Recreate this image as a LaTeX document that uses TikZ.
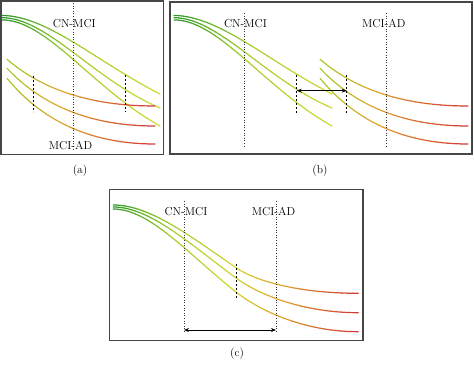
\documentclass[tikz,border=0pt]{standalone}
\usetikzlibrary{arrows.meta}
\definecolor{boxgrey}{RGB}{70,70,70}
\definecolor{trendgreen}{RGB}{40,150,40}
\definecolor{trendlime}{RGB}{165,205,45}
\definecolor{trendyellow}{RGB}{210,215,50}
\definecolor{trendorange}{RGB}{225,165,45}
\definecolor{trendred}{RGB}{210,55,55}
\newcommand{\trend}[7] % start, control 1, control 2, end, colour at start, middle, end
{
	% curve cut in short pieces, each one coloured on its own
	\foreach \k in {1,...,30}
	{
		\pgfmathsetmacro{\ta}{(\k-1)/30}
		\pgfmathsetmacro{\tb}{\k/30}
		\ifnum\k>15
			\pgfmathtruncatemacro{\pc}{(\k-15.5)*100/15}
			\colorlet{segcol}{#7!\pc!#6}
		\else
			\pgfmathtruncatemacro{\pc}{(\k-0.5)*100/15}
			\colorlet{segcol}{#6!\pc!#5}
		\fi
		\path #1 .. controls #2 and #3 .. #4 coordinate[pos=\ta] (s) coordinate[pos=\tb] (e);
		\draw[trendline, segcol] (s) -- (e);
	}
}
\newcommand{\uppertrends}[1] % x of the left end
{
	\trend{(#1,15.5)}{({#1+45},15.5)}{({#1+95},62)}{({#1+158},94)}{trendgreen}{trendlime}{trendyellow}
	\trend{(#1,17.7)}{({#1+45},17.7)}{({#1+92},80)}{({#1+158},108)}{trendgreen}{trendlime}{trendyellow}
	\trend{(#1,19.9)}{({#1+45},19.9)}{({#1+90},88)}{({#1+158},126)}{trendgreen}{trendlime}{trendyellow}
}
\newcommand{\lowertrends}[1] % x of the left end
{
	\trend{(#1,59.3)}{({#1+30},85)}{({#1+75},106)}{({#1+148},106)}{trendlime}{trendorange}{trendred}
	\trend{(#1,68.3)}{({#1+30},100)}{({#1+75},126)}{({#1+148},126)}{trendlime}{trendorange}{trendred}
	\trend{(#1,78.3)}{({#1+30},114.5)}{({#1+75},144)}{({#1+148},144)}{trendlime}{trendorange}{trendred}
}
\begin{document}
\begin{tikzpicture}[x=1pt,y=-1pt,
	panelbox/.style={draw=boxgrey, line width=1.5pt},
	trendline/.style={line width=1.2pt, line cap=round},
	splitline/.style={dash pattern=on 0.8pt off 1.8pt, line width=0.8pt, draw=black!80},
	cutline/.style={dash pattern=on 2.2pt off 1.8pt, line width=1pt},
	gaparrow/.style={{Stealth[length=5pt,width=4pt]}-{Stealth[length=5pt,width=4pt]}, line width=0.9pt},
	stagetext/.style={font=\fontsize{11.5}{13}\selectfont, inner sep=0pt}]
	\useasboundingbox (0,0) rectangle (474,366);

	% (a)
	\draw[panelbox] (1,1) rectangle (163.5,154.5);
	\uppertrends{2}
	\lowertrends{7}
	\coordinate (aCNtop) at (73.3,3);
	\coordinate (aCNbot) at (73.3,150);
	\draw[splitline] (aCNtop) -- (aCNbot);
	\node[stagetext] (aCN) at (74.3,23.7) {CN-MCI};
	\node[stagetext] (aAD) at (70.5,145.3) {MCI-AD};
	\draw[cutline] (33,76) -- (33,112);
	\draw[cutline] (125,75) -- (125,112);
	\node[stagetext] (acap) at (80,171) {(a)};

	% (b)
	\draw[panelbox] (170,2) rectangle (472,154);
	\uppertrends{174}
	\lowertrends{320}
	\draw[splitline] (244.3,13) -- (244.3,146);
	\draw[splitline] (386.7,13) -- (386.7,146);
	\node[stagetext] (bCN) at (245.5,23.7) {CN-MCI};
	\node[stagetext] (bAD) at (383.8,23.7) {MCI-AD};
	\coordinate (bgapL) at (296.7,90.7);
	\coordinate (bgapR) at (346.7,90.7);
	\draw[cutline] (296.7,75) -- (296.7,113);
	\draw[cutline] (346.7,75) -- (346.7,113);
	\draw[gaparrow] (bgapL) -- (bgapR);
	\node[stagetext] (bcap) at (320,171) {(b)};

	% (c)
	\draw[panelbox] (109.5,189.5) rectangle (363,340.5);
	\trend{(113.3,205)}{(150,205)}{(190,236)}{(236,267.7)}{trendgreen}{trendlime}{trendyellow}
	\trend{(113.3,207)}{(150,207)}{(190,244)}{(236,278)}{trendgreen}{trendlime}{trendyellow}
	\trend{(113.3,209)}{(150,209)}{(188,254)}{(236,292)}{trendgreen}{trendlime}{trendyellow}
	\trend{(236,267.7)}{(256,281.5)}{(300,293.3)}{(358.3,293.3)}{trendyellow}{trendorange}{trendred}
	\trend{(236,278)}{(256,292.8)}{(300,312.7)}{(358.3,312.7)}{trendyellow}{trendorange}{trendred}
	\trend{(236,292)}{(256,307.8)}{(300,331.7)}{(358.3,331.7)}{trendyellow}{trendorange}{trendred}
	\coordinate (cCNtop) at (184,201);
	\coordinate (cCNbot) at (184,333);
	\coordinate (cADtop) at (276,201);
	\coordinate (cADbot) at (276,333);
	\draw[splitline] (cCNtop) -- (cCNbot);
	\draw[splitline] (cADtop) -- (cADbot);
	\node[stagetext] (cCN) at (186,211.7) {CN-MCI};
	\node[stagetext] (cAD) at (273.5,211.7) {MCI-AD};
	\draw[cutline] (236,264) -- (236,300);
	\coordinate (cgapL) at (184,330);
	\coordinate (cgapR) at (276,330);
	\draw[gaparrow] (cgapL) -- (cgapR);
	\node[stagetext] (ccap) at (237,354) {(c)};
\end{tikzpicture}
\end{document}
